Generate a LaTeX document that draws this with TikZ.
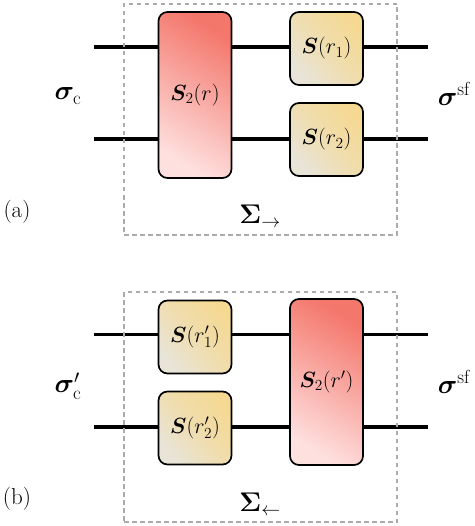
\RequirePackage{fix-cm}
\documentclass[tikz,border=0pt]{standalone}
\usepackage{amsmath}
\usepackage{bm}
\definecolor{redhi}{HTML}{F4776C}
\definecolor{redlo}{HTML}{FEE0DF}
\definecolor{tanhi}{HTML}{F5D993}
\definecolor{tanlo}{HTML}{E8E4D8}
\definecolor{dashgrey}{HTML}{ABABAB}
\tikzset{
  gate/.style={draw=black,line width=1.7pt,rounded corners=9pt,inner sep=0pt,minimum width=73pt,font=\fontsize{22}{24}\selectfont},
  biggate/.style={gate,minimum height=166pt,top color=redhi,bottom color=redlo,middle color=redhi!50!redlo,shading angle=-32},
  smallgate/.style={gate,minimum height=73pt,top color=tanhi,bottom color=tanlo,middle color=tanhi!60!tanlo,shading angle=-50},
  wire/.style={line width=3.4pt,black},
  frameline/.style={draw=dashgrey,line width=1.5pt,dash pattern=on 4.5pt off 3.5pt,inner sep=0pt},
  lab/.style={inner sep=0pt,font=\fontsize{27}{30}\selectfont},
  tagtext/.style={inner sep=0pt,font=\fontsize{23}{26}\selectfont}
}
\begin{document}
\begin{tikzpicture}[x=1pt,y=-1pt]
\useasboundingbox (0,0) rectangle (474,526);
% panel a
\coordinate (ai1) at (94,47); \coordinate (ao1) at (428,47);
\coordinate (ai2) at (94,139); \coordinate (ao2) at (428,139);
\node[biggate] (as2) at (195,95) {$\bm{S}_2(r)$};
\node[smallgate] (as1) at (326.5,48.5) {$\bm{S}(r_1)$};
\node[smallgate] (as3) at (326.5,139.5) {$\bm{S}(r_2)$};
\draw[wire] (ai1) -- (ai1 -| as2.west);
\draw[wire] (ai2) -- (ai2 -| as2.west);
\draw[wire] (ai1 -| as2.east) -- (ai1 -| as1.west);
\draw[wire] (ai2 -| as2.east) -- (ai2 -| as3.west);
\draw[wire] (ao1 -| as1.east) -- (ao1);
\draw[wire] (ao2 -| as3.east) -- (ao2);
\node[frameline,minimum width=273pt,minimum height=231pt] (aframe) at (260.5,119.5) {};
\node[lab] (asc) at (68,96) {$\bm{\sigma}_{\mathrm{c}}$};
\node[lab] (asf) at (454.5,94) {$\bm{\sigma}^{\mathrm{sf}}$};
\node[lab] (asum) at (260,216) {$\bm{\Sigma}_{\rightarrow}$};
\node[tagtext] (atag) at (17,212) {(a)};
% panel b
\coordinate (bi1) at (94,334.5); \coordinate (bo1) at (428,334.5);
\coordinate (bi2) at (94,427); \coordinate (bo2) at (428,427);
\node[smallgate] (bs1) at (195,337) {$\bm{S}(r_1')$};
\node[smallgate] (bs3) at (195,428) {$\bm{S}(r_2')$};
\node[biggate] (bs2) at (326.5,382) {$\bm{S}_2(r')$};
\draw[wire] (bi1) -- (bi1 -| bs1.west);
\draw[wire] (bi2) -- (bi2 -| bs3.west);
\draw[wire] (bi1 -| bs1.east) -- (bi1 -| bs2.west);
\draw[wire] (bi2 -| bs3.east) -- (bi2 -| bs2.west);
\draw[wire] (bo1 -| bs2.east) -- (bo1);
\draw[wire] (bo2 -| bs2.east) -- (bo2);
\node[frameline,minimum width=273pt,minimum height=230pt] (bframe) at (260.5,407) {};
\node[lab] (bsc) at (68,386) {$\bm{\sigma}_{\mathrm{c}}'$};
\node[lab] (bsf) at (454.5,382) {$\bm{\sigma}^{\mathrm{sf}}$};
\node[lab] (bsum) at (260,504) {$\bm{\Sigma}_{\leftarrow}$};
\node[tagtext] (btag) at (17,499) {(b)};
\end{tikzpicture}
\end{document}
